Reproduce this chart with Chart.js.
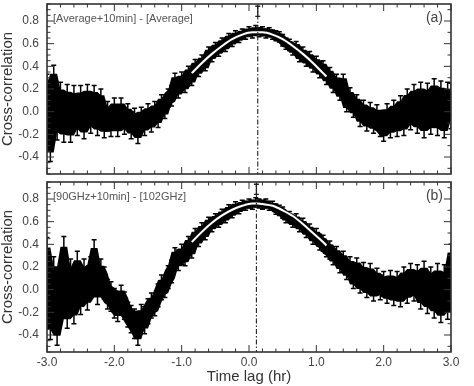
<!DOCTYPE html>
<html>
<head>
<meta charset="utf-8">
<script src="https://cdn.jsdelivr.net/npm/chart.js@4.4.1/dist/chart.umd.min.js"></script>
<style>
  html, body { margin: 0; padding: 0; background: #fff; }
  .panel { position: absolute; left: 0; width: 474px; }
</style>
</head>
<body>
<div class="panel" style="top:0;height:178px"><canvas id="chartA"></canvas></div>
<div class="panel" style="top:178px;height:208px"><canvas id="chartB"></canvas></div>
<script>
// time lag (hr), one point every 0.05 hr
const lags = Array.from({ length: 121 }, (_, i) => Math.round((-3 + i * 0.05) * 100) / 100);

// panel (a): [Average+10min] - [Average]
const corrA = [
  0.14, -0.24, 0.22, -0.08, 0.10, -0.10, 0.08, -0.12, 0.06, -0.06,
  0.08, -0.10, 0.10, -0.04, 0.09, -0.08, 0.06, -0.10, -0.04, -0.10,
  0.00, -0.10, 0.00, -0.09, -0.04, -0.12, -0.08, -0.16, -0.06, -0.10,
  -0.03, -0.08, 0.00, -0.04, 0.06, 0.03, 0.12, 0.14, 0.25, 0.20,
  0.27, 0.24, 0.33, 0.30, 0.39, 0.37, 0.44, 0.42, 0.51, 0.50,
  0.56, 0.54, 0.60, 0.58, 0.64, 0.62, 0.67, 0.65, 0.69, 0.68,
  0.71, 0.69, 0.72, 0.70, 0.71, 0.69, 0.70, 0.68, 0.67, 0.66,
  0.63, 0.60, 0.59, 0.55, 0.56, 0.50, 0.51, 0.46, 0.47, 0.42,
  0.42, 0.37, 0.38, 0.31, 0.32, 0.25, 0.26, 0.18, 0.24, 0.08,
  0.12, 0.04, 0.06, -0.03, 0.01, -0.07, -0.02, -0.09, -0.05, -0.12,
  -0.15, -0.05, -0.12, -0.02, -0.10, 0.02, -0.08, 0.07, -0.04, 0.10,
  -0.06, 0.12, -0.08, 0.10, -0.06, 0.14, -0.05, 0.12, -0.08, 0.11,
  0.05
];
const errA = [
  0.19, 0.20, 0.19, 0.17, 0.16, 0.17, 0.16, 0.15, 0.17, 0.15,
  0.15, 0.14, 0.14, 0.15, 0.14, 0.13, 0.14, 0.13, 0.13, 0.12,
  0.12, 0.12, 0.12, 0.11, 0.11, 0.12, 0.11, 0.12, 0.10, 0.11,
  0.10, 0.10, 0.09, 0.10, 0.09, 0.09, 0.08, 0.09, 0.09, 0.08,
  0.08, 0.07, 0.07, 0.07, 0.07, 0.06, 0.06, 0.06, 0.06, 0.06,
  0.05, 0.05, 0.05, 0.05, 0.05, 0.045, 0.045, 0.04, 0.04, 0.04,
  0.04, 0.04, 0.04, 0.04, 0.04, 0.04, 0.04, 0.04, 0.045, 0.045,
  0.05, 0.05, 0.05, 0.05, 0.06, 0.06, 0.06, 0.06, 0.06, 0.07,
  0.07, 0.07, 0.07, 0.07, 0.07, 0.08, 0.07, 0.08, 0.09, 0.08,
  0.09, 0.09, 0.09, 0.10, 0.09, 0.10, 0.10, 0.10, 0.11, 0.10,
  0.11, 0.12, 0.11, 0.12, 0.12, 0.12, 0.13, 0.13, 0.12, 0.14,
  0.13, 0.14, 0.15, 0.15, 0.14, 0.15, 0.16, 0.15, 0.15, 0.15,
  0.20
];

// panel (b): [90GHz+10min] - [102GHz]
const corrB = [
  0.24, -0.22, 0.08, -0.28, 0.04, 0.24, -0.14, 0.08, -0.12, 0.14,
  -0.05, 0.10, -0.02, 0.12, 0.26, 0.02, 0.12, 0.06, -0.04, -0.06,
  -0.12, -0.16, -0.08, -0.14, -0.22, -0.26, -0.30, -0.36, -0.26, -0.27,
  -0.19, -0.14, -0.13, -0.05, 0.02, 0.03, 0.11, 0.16, 0.28, 0.26,
  0.31, 0.29, 0.39, 0.36, 0.47, 0.45, 0.52, 0.50, 0.58, 0.57,
  0.62, 0.60, 0.66, 0.64, 0.70, 0.68, 0.73, 0.71, 0.75, 0.74,
  0.76, 0.75, 0.77, 0.76, 0.75, 0.76, 0.74, 0.74, 0.71, 0.70,
  0.68, 0.64, 0.64, 0.60, 0.61, 0.57, 0.57, 0.52, 0.52, 0.47,
  0.47, 0.42, 0.41, 0.36, 0.35, 0.29, 0.30, 0.23, 0.25, 0.17,
  0.20, 0.10, 0.18, 0.06, 0.14, 0.03, 0.12, 0.00, 0.09, 0.02,
  0.05, -0.02, 0.06, -0.03, 0.04, -0.04, 0.08, 0.00, 0.11, 0.02,
  0.09, -0.04, 0.11, -0.07, 0.06, -0.10, 0.08, -0.14, 0.06, -0.10,
  0.22
];
const errB = [
  0.22, 0.22, 0.21, 0.21, 0.20, 0.23, 0.20, 0.19, 0.18, 0.20,
  0.17, 0.17, 0.16, 0.17, 0.18, 0.15, 0.15, 0.14, 0.13, 0.13,
  0.13, 0.12, 0.12, 0.12, 0.11, 0.12, 0.13, 0.13, 0.13, 0.12,
  0.11, 0.11, 0.10, 0.10, 0.11, 0.10, 0.10, 0.10, 0.09, 0.09,
  0.09, 0.08, 0.08, 0.08, 0.07, 0.07, 0.07, 0.06, 0.06, 0.06,
  0.05, 0.05, 0.05, 0.05, 0.05, 0.045, 0.045, 0.04, 0.04, 0.04,
  0.04, 0.04, 0.04, 0.04, 0.04, 0.04, 0.04, 0.04, 0.045, 0.045,
  0.05, 0.05, 0.05, 0.05, 0.06, 0.06, 0.06, 0.06, 0.06, 0.07,
  0.07, 0.07, 0.07, 0.07, 0.08, 0.07, 0.08, 0.08, 0.09, 0.08,
  0.09, 0.09, 0.10, 0.09, 0.10, 0.10, 0.11, 0.10, 0.10, 0.11,
  0.11, 0.10, 0.11, 0.11, 0.12, 0.11, 0.12, 0.12, 0.12, 0.12,
  0.13, 0.13, 0.14, 0.14, 0.14, 0.15, 0.15, 0.15, 0.16, 0.16,
  0.18
];

// fitted curves (white lines)
const fitLags = [-0.85, -0.7, -0.55, -0.4, -0.25, -0.1, 0.05, 0.13, 0.2, 0.35, 0.5, 0.65, 0.8, 0.95, 1.1, 1.15];
const fitA = [0.34, 0.43, 0.51, 0.58, 0.64, 0.68, 0.70, 0.70, 0.70, 0.68, 0.64, 0.58, 0.51, 0.43, 0.34, 0.31];
const fitB = [0.42, 0.51, 0.59, 0.655, 0.705, 0.74, 0.76, 0.76, 0.755, 0.74, 0.70, 0.65, 0.58, 0.50, 0.42, 0.39];

// lag of the peak (dash-dot line)
const peakLagA = 0.13;
const peakLagB = 0.11;

const xTicks = [-3, -2, -1, 0, 1, 2, 3];
const xTickLabels = ["-3.0", "-2.0", "-1.0", "0.0", "1.0", "2.0", "3.0"];
const yTicks = [-0.4, -0.2, 0, 0.2, 0.4, 0.6, 0.8];

const FONT = "'Liberation Sans', Arial, Helvetica, sans-serif";

// outer edge of the overlapping error bars (neighbour points included)
function envelope(corr, err, sign) {
  return lags.map((l, i) => {
    let m = null;
    for (let j = Math.max(0, i - 1); j <= Math.min(corr.length - 1, i + 1); j++) {
      const v = corr[j] + sign * 0.6 * err[j];
      if (m === null || sign * v > sign * m) m = v;
    }
    return { x: l, y: m };
  });
}

// error bars drawn under everything else
const errorBars = {
  id: "errorBars",
  beforeDatasetsDraw(chart) {
    const { ctx, chartArea, scales: { x, y } } = chart;
    ctx.save();
    ctx.beginPath();
    ctx.rect(chartArea.left, chartArea.top, chartArea.width, chartArea.height);
    ctx.clip();
    chart.data.datasets.forEach(ds => {
      if (!ds.errors) return;
      ctx.strokeStyle = "#000";
      ctx.lineWidth = 1.5;
      ctx.beginPath();
      ds.data.forEach((p, i) => {
        const px = x.getPixelForValue(p.x);
        const y1 = y.getPixelForValue(p.y + ds.errors[i]);
        const y2 = y.getPixelForValue(p.y - ds.errors[i]);
        ctx.moveTo(px, y1); ctx.lineTo(px, y2);
        ctx.moveTo(px - 2.5, y1); ctx.lineTo(px + 2.5, y1);
        ctx.moveTo(px - 2.5, y2); ctx.lineTo(px + 2.5, y2);
      });
      ctx.stroke();
    });
    ctx.restore();
  }
};

// frame, inward ticks, dash-dot lag line, labels
const frame = {
  id: "frame",
  afterDatasetsDraw(chart, args, opts) {
    const { ctx, chartArea: a, scales: { x, y } } = chart;
    ctx.save();

    const lx = x.getPixelForValue(opts.peak);
    ctx.strokeStyle = "#222";
    ctx.lineWidth = 1.1;
    ctx.setLineDash([5, 2, 1.5, 2]);
    ctx.beginPath();
    ctx.moveTo(lx, a.top); ctx.lineTo(lx, a.bottom);
    ctx.stroke();
    ctx.setLineDash([]);
    // small bar at the top of the lag line
    const t1 = y.getPixelForValue(opts.markHi), t2 = y.getPixelForValue(opts.markLo);
    ctx.lineWidth = 1.3;
    ctx.beginPath();
    ctx.moveTo(lx, t1); ctx.lineTo(lx, t2);
    ctx.moveTo(lx - 2.5, t1); ctx.lineTo(lx + 2.5, t1);
    ctx.moveTo(lx - 2.5, t2); ctx.lineTo(lx + 2.5, t2);
    ctx.stroke();

    ctx.strokeStyle = "#333";
    ctx.lineWidth = 1;
    ctx.beginPath();
    for (let i = 0; i <= 30; i++) {
      const v = -3 + i * 0.2;
      const px = x.getPixelForValue(v);
      const len = i % 5 === 0 ? 7 : 3.5;
      ctx.moveTo(px, a.bottom); ctx.lineTo(px, a.bottom - len);
      ctx.moveTo(px, a.top); ctx.lineTo(px, a.top + len);
    }
    for (let i = 0; i <= 30; i++) {
      const v = -0.55 + i * 0.05;
      const py = y.getPixelForValue(v);
      const major = Math.abs(Math.round(v * 100) % 20) === 0;
      ctx.moveTo(a.left, py); ctx.lineTo(a.left + (major ? 7 : 3.5), py);
      if (Math.abs(Math.round(v * 100) % 10) === 0) {
        ctx.moveTo(a.right, py); ctx.lineTo(a.right - (major ? 7 : 3.5), py);
      }
    }
    ctx.stroke();

    ctx.lineWidth = 1.6;
    ctx.strokeRect(a.left, a.top, a.right - a.left, a.bottom - a.top);

    ctx.fillStyle = "#555";
    ctx.font = "11px " + FONT;
    ctx.textBaseline = "middle";
    ctx.textAlign = "left";
    ctx.fillText(opts.label, a.left + 6, a.top + 15);
    ctx.fillStyle = "#444";
    ctx.font = "14px " + FONT;
    ctx.textAlign = "right";
    ctx.fillText(opts.tag, a.right - 8, a.top + 14);
    ctx.restore();
  }
};

function makeChart(id, corr, err, fit, peak, label, tag, showX, pad) {
  const pts = lags.map((l, i) => ({ x: l, y: corr[i] }));
  return new Chart(document.getElementById(id), {
    type: "line",
    data: {
      datasets: [
        {
          data: fitLags.map((l, i) => ({ x: l, y: fit[i] })),
          borderColor: "#fff", borderWidth: 2, pointRadius: 0,
          cubicInterpolationMode: "monotone", fill: false
        },
        {
          data: fitLags.map((l, i) => ({ x: l, y: fit[i] })),
          borderColor: "#111", borderWidth: 3.5, pointRadius: 0,
          cubicInterpolationMode: "monotone", fill: false
        },
        {
          data: pts, errors: err, showLine: false,
          pointStyle: "rect", pointRadius: 1.6,
          pointBackgroundColor: "#000", pointBorderWidth: 0
        },
        {
          data: envelope(corr, err, 1),
          borderWidth: 0, pointRadius: 0, backgroundColor: "#000", fill: "+1"
        },
        {
          data: envelope(corr, err, -1),
          borderWidth: 0, pointRadius: 0, fill: false
        }
      ]
    },
    options: {
      responsive: true,
      maintainAspectRatio: false,
      animation: false,
      devicePixelRatio: 1,
      layout: { padding: pad },
      plugins: {
        legend: { display: false },
        tooltip: { enabled: false },
        frame: { peak: peak, label: label, tag: tag, markHi: 0.93, markLo: 0.84 }
      },
      scales: {
        x: {
          type: "linear", min: -3, max: 3,
          display: showX,
          grid: { display: false, drawTicks: false },
          border: { display: false },
          afterBuildTicks: s => { s.ticks = xTicks.map(v => ({ value: v })); },
          afterFit: s => { s.height = showX ? 34 : 0; s.paddingLeft = 0; s.paddingRight = 0; },
          ticks: {
            color: "#444", font: { size: 12, family: FONT }, padding: 3,
            maxRotation: 0,
            callback: v => xTickLabels[xTicks.indexOf(v)]
          },
          title: {
            display: true, text: "Time lag (hr)", color: "#333",
            font: { size: 15, family: FONT }, padding: { top: 0, bottom: 0 }
          }
        },
        y: {
          min: -0.55, max: 0.95,
          grid: { display: false, drawTicks: false },
          border: { display: false },
          afterBuildTicks: s => { s.ticks = yTicks.map(v => ({ value: v })); },
          afterFit: s => { s.width = 47; s.paddingTop = 0; s.paddingBottom = 0; },
          ticks: {
            color: "#444", font: { size: 12, family: FONT }, padding: 8,
            callback: v => v.toFixed(1)
          },
          title: {
            display: true, text: "Cross-correlation", color: "#333",
            font: { size: 15, family: FONT, lineHeight: 1.1 }, padding: { top: 0, bottom: 0 }
          }
        }
      }
    },
    plugins: [errorBars, frame]
  });
}

makeChart("chartA", corrA, errA, fitA, peakLagA, "[Average+10min] - [Average]", "(a)", false,
  { left: 0, right: 23, top: 1, bottom: 3 });
makeChart("chartB", corrB, errB, fitB, peakLagB, "[90GHz+10min] - [102GHz]", "(b)", true,
  { left: 0, right: 23, top: 2, bottom: 0 });
</script>
</body>
</html>
